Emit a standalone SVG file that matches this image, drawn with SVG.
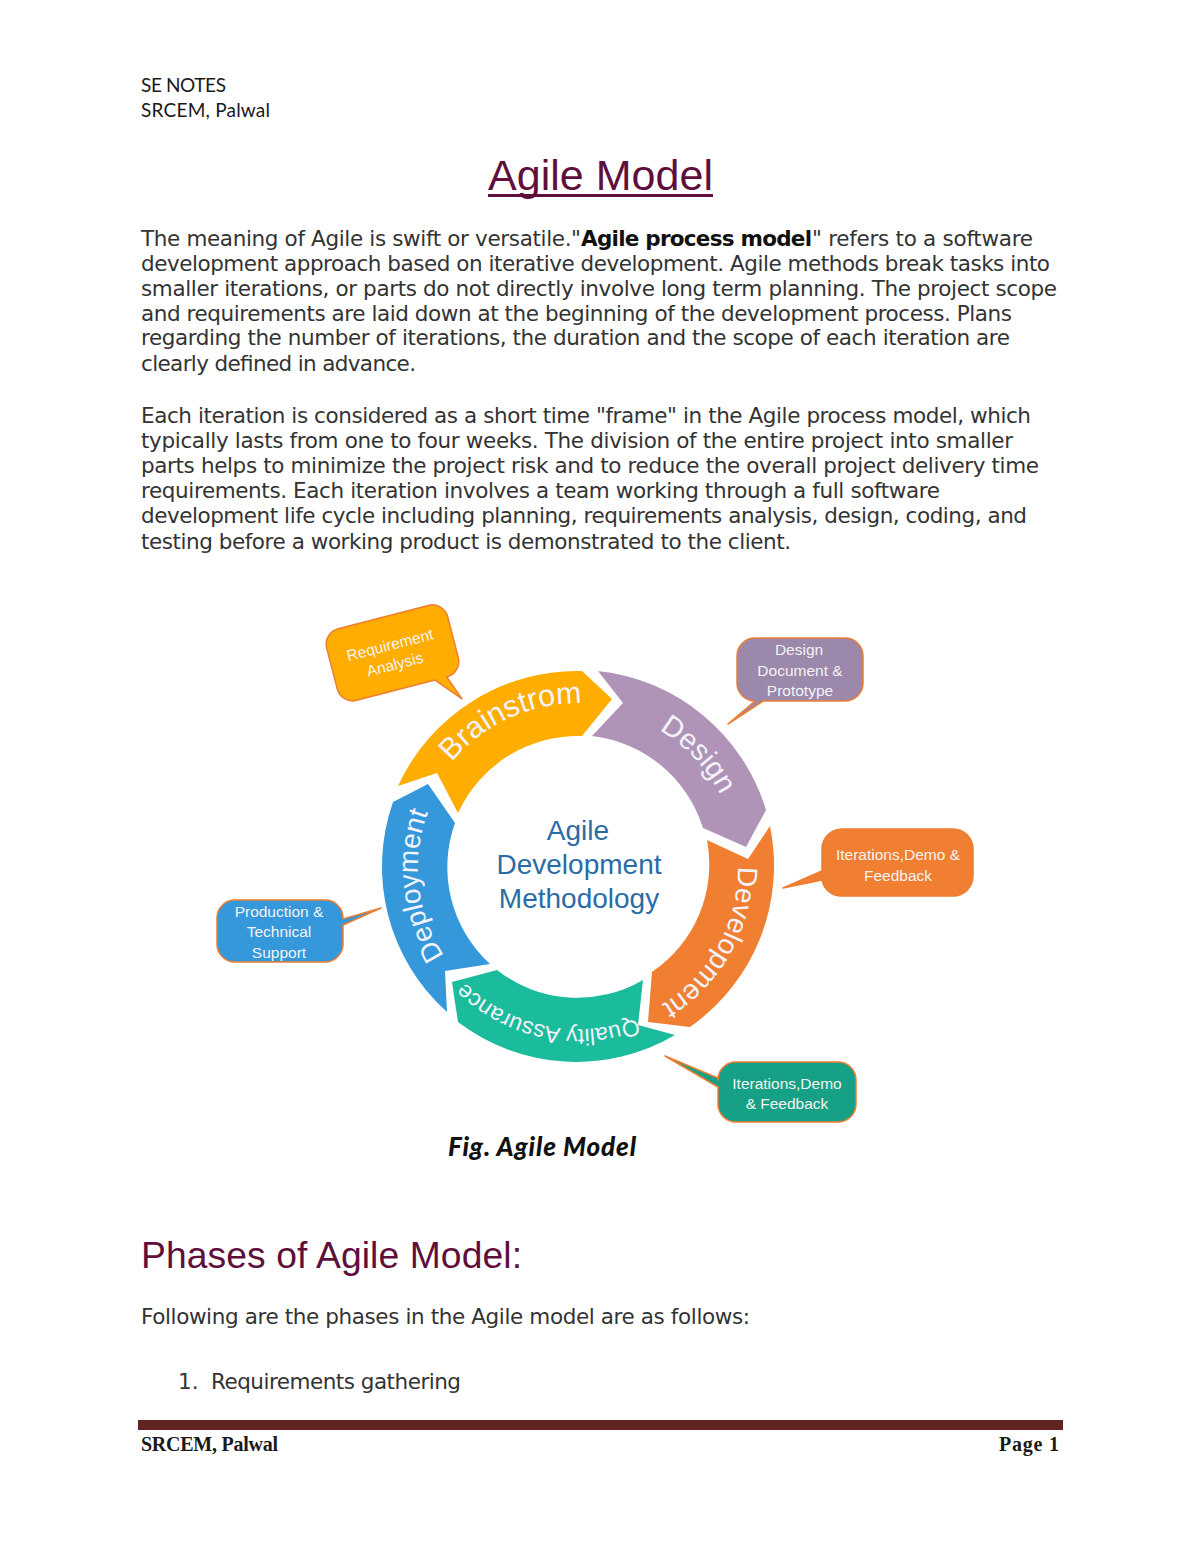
<svg xmlns="http://www.w3.org/2000/svg" width="1200" height="1553" viewBox="0 0 1200 1553">
<style>
.b{font:21.5px "DejaVu Sans",Verdana,sans-serif;fill:#333}
.bold{font-weight:bold;fill:#111}
.h{font:19px Lato,"Liberation Sans",sans-serif;fill:#1a1a1a}
.f{font:bold 20px "Liberation Serif",serif;fill:#1a1a1a}
.t{font-family:"Liberation Sans",Arial,sans-serif;fill:#5f0f3c}
.l{font-family:"Liberation Sans",Arial,sans-serif;fill:#f3f3fa}
.s{font-family:"Liberation Sans",Arial,sans-serif;font-size:15.5px;fill:#f3f3f3;text-anchor:middle}
.c{font-family:"Liberation Sans",Arial,sans-serif;font-size:28px;fill:#2a6ca6;text-anchor:middle}
.bb{stroke:#ed7d31;stroke-width:1.5;stroke-linejoin:round}
</style>
<defs>
<path id="pB" d="M451.9 762.2A165 165 0 0 1 634.4 713"/>
<path id="pD" d="M659.2 730.1A160 160 0 0 1 735.6 895.8"/>
<path id="pV" d="M738 866.6A160 160 0 0 1 605.8 1025.6"/>
<path id="pQ" d="M636.5 1018A161 161 0 0 1 438.6 948.5"/>
<path id="pY" d="M444.1 955.6A160 160 0 0 1 455.4 765.1"/>
</defs>
<rect width="1200" height="1553" fill="#fff"/>
<g id="header">
<text class="h" x="141" y="92" textLength="85">SE NOTES</text>
<text class="h" x="141" y="117" textLength="129">SRCEM, Palwal</text>
</g>
<g id="title">
<text class="t" x="488" y="190" font-size="43" textLength="225">Agile Model</text>
<rect x="488" y="194" width="225" height="3" fill="#5f0f3c"/>
</g>
<g id="para1">
<text class="b" x="141" y="246" textLength="440">The meaning of Agile is swift or versatile."</text>
<text class="b bold" x="581" y="246" textLength="231">Agile process model</text>
<text class="b" x="812" y="246" textLength="221">" refers to a software</text>
<text class="b" x="141" y="271" textLength="909">development approach based on iterative development. Agile methods break tasks into</text>
<text class="b" x="141" y="296" textLength="916">smaller iterations, or parts do not directly involve long term planning. The project scope</text>
<text class="b" x="141" y="321" textLength="871">and requirements are laid down at the beginning of the development process. Plans</text>
<text class="b" x="141" y="345" textLength="869">regarding the number of iterations, the duration and the scope of each iteration are</text>
<text class="b" x="141" y="371" textLength="275">clearly defined in advance.</text>
</g>
<g id="para2">
<text class="b" x="141" y="423" textLength="890">Each iteration is considered as a short time "frame" in the Agile process model, which</text>
<text class="b" x="141" y="448" textLength="872">typically lasts from one to four weeks. The division of the entire project into smaller</text>
<text class="b" x="141" y="473" textLength="898">parts helps to minimize the project risk and to reduce the overall project delivery time</text>
<text class="b" x="141" y="498" textLength="799">requirements. Each iteration involves a team working through a full software</text>
<text class="b" x="141" y="523" textLength="886">development life cycle including planning, requirements analysis, design, coding, and</text>
<text class="b" x="141" y="549" textLength="650">testing before a working product is demonstrated to the client.</text>
</g>
<g id="connectors"></g>
<g id="node-brainstorm">
<path fill="#ffad00" d="M398 786A197 197 0 0 1 582 671L612 699L582 736A132 132 0 0 0 458 813L437 773Z"/>
<text class="l" font-size="30.5"><textPath href="#pB">Brainstrom</textPath></text>
</g>
<g id="node-design">
<path fill="#b094b8" d="M598 671A197 197 0 0 1 766 810L746 847L703 828A132 132 0 0 0 592 736L623 703Z"/>
<text class="l" font-size="29"><textPath href="#pD">Design</textPath></text>
</g>
<g id="node-development">
<path fill="#f07f32" d="M770 826A197 197 0 0 1 690 1027L648 1022L652 972A130 130 0 0 0 707 840L748 859Z"/>
<text class="l" font-size="28"><textPath href="#pV">Development</textPath></text>
</g>
<g id="node-quality">
<path fill="#1abc9c" d="M643 980A130 130 0 0 1 497 970L452 982L458 1022A195 195 0 0 0 675 1035L638 1025Z"/>
<text class="l" font-size="23"><textPath href="#pQ">Quality Assurance</textPath></text>
</g>
<g id="node-deployment">
<path fill="#3498db" d="M490 964L445 971L447 1012A195 195 0 0 1 393 802L428 784L455 823A131 131 0 0 0 490 964Z"/>
<text class="l" font-size="28"><textPath href="#pY">Deployment</textPath></text>
</g>
<g id="node-center">
<text class="c" x="578" y="840">Agile</text>
<text class="c" x="579" y="874">Development</text>
<text class="c" x="579" y="908">Methodology</text>
</g>
<g id="node-requirement" transform="rotate(-14.5 392 653)">
<path class="bb" fill="#ffad00" d="M346 616H439A16 16 0 0 1 455 632V674A16 16 0 0 1 439 690H439L448.3 715L426.9 690H346A16 16 0 0 1 330 674V632A16 16 0 0 1 346 616Z"/>
<text class="s" x="392" y="650">Requirement</text>
<text class="s" x="392" y="670">Analysis</text>
</g>
<g id="node-prototype">
<path class="bb" fill="#9b88ab" d="M755 638H845A18 18 0 0 1 863 656V683A18 18 0 0 1 845 701H763L728 724L755 701A18 18 0 0 1 737 683V656A18 18 0 0 1 755 638Z"/>
<text class="s" x="799" y="655">Design</text>
<text class="s" x="800" y="676">Document &amp;</text>
<text class="s" x="800" y="696">Prototype</text>
</g>
<g id="node-demo1">
<path class="bb" fill="#f07f32" d="M842 829H953A20 20 0 0 1 973 849V876A20 20 0 0 1 953 896H842A20 20 0 0 1 822 880L783 888L822 871V849A20 20 0 0 1 842 829Z"/>
<text class="s" x="898" y="860">Iterations,Demo &amp;</text>
<text class="s" x="898" y="881">Feedback</text>
</g>
<g id="node-demo2">
<path class="bb" fill="#16a085" d="M736 1062H838A18 18 0 0 1 856 1080V1104A18 18 0 0 1 838 1122H736A18 18 0 0 1 718 1104V1087L665 1056L718 1078V1080A18 18 0 0 1 736 1062Z"/>
<text class="s" x="787" y="1089">Iterations,Demo</text>
<text class="s" x="787" y="1109">&amp; Feedback</text>
</g>
<g id="node-support">
<path class="bb" fill="#3498db" d="M235 900H325A18 18 0 0 1 343 918V919L381 908L343 925V944A18 18 0 0 1 325 962H235A18 18 0 0 1 217 944V918A18 18 0 0 1 235 900Z"/>
<text class="s" x="279" y="917">Production &amp;</text>
<text class="s" x="279" y="937">Technical</text>
<text class="s" x="279" y="958">Support</text>
</g>
<text id="caption" x="448" y="1156" font-family="Lato,'Liberation Sans',sans-serif" font-size="26" font-weight="900" font-style="italic" fill="#111" textLength="188">Fig. Agile Model</text>
<text id="phases" class="t" x="141" y="1268" font-size="37.25" textLength="381">Phases of Agile Model:</text>
<text class="b" x="141" y="1324" textLength="609">Following are the phases in the Agile model are as follows:</text>
<text class="b" x="178" y="1389">1.</text>
<text class="b" x="211" y="1389" textLength="250">Requirements gathering</text>
<g id="footer">
<rect x="138" y="1420" width="925" height="10" fill="#622423"/>
<text class="f" x="141" y="1451" textLength="137">SRCEM, Palwal</text>
<text class="f" x="999" y="1451" textLength="60">Page 1</text>
</g>
</svg>
